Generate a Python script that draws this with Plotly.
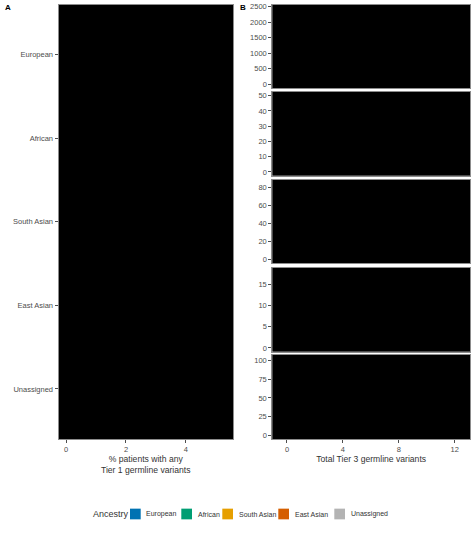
import plotly.graph_objects as go

# ancestry groups and their colours
ancestry = ["European", "African", "South Asian", "East Asian", "Unassigned"]
colors = ["#0072B2", "#009E73", "#E69F00", "#D55E00", "#B3B3B3"]

# panel A: % patients with any Tier 1 germline variant
pct_tier1 = [5.3, 2.9, 3.4, 4.1, 3.0]

# panel B: number of patients by total Tier 3 germline variants (0..12)
n_variants = list(range(13))
tier3_european = [310, 1180, 2040, 2540, 2230, 1620, 980, 520, 240, 100, 38, 12, 4]
tier3_african = [6, 22, 41, 50, 44, 31, 19, 10, 5, 2, 1, 0, 0]
tier3_south_asian = [9, 35, 66, 84, 72, 50, 30, 15, 7, 3, 1, 1, 0]
tier3_east_asian = [2, 8, 14, 18, 16, 11, 7, 4, 2, 1, 0, 0, 0]
tier3_unassigned = [13, 46, 82, 103, 90, 64, 38, 20, 9, 4, 2, 1, 0]
tier3 = [tier3_european, tier3_african, tier3_south_asian, tier3_east_asian, tier3_unassigned]

# y ticks per facet
facet_ticks = [
    [0, 500, 1000, 1500, 2000, 2500],
    [0, 10, 20, 30, 40, 50],
    [0, 20, 40, 60, 80],
    [0, 5, 10, 15],
    [0, 25, 50, 75, 100],
]
facet_ranges = [[-130, 2565], [-2.5, 52.4], [-4.2, 88.2], [-0.9, 18.9], [-5.3, 107.7]]

W, H = 474, 553
def yd(top, bottom):
    return [1 - bottom / H, 1 - top / H]

facet_px = [(4.7, 88.3), (92, 175.7), (180, 263.3), (267.7, 351.7), (355, 439)]

font = "Liberation Sans, Arial, sans-serif"
tick_font = dict(family=font, size=7.5, color="#4d4d4d")
title_font = dict(family=font, size=8.6, color="#333333")
line_col = "#8c8c8c"
panel_bg = "black"

fig = go.Figure()

# panel A bars
fig.add_trace(go.Bar(
    x=pct_tier1, y=ancestry, orientation="h",
    marker=dict(color="black", line=dict(width=0)),
    width=0.9, showlegend=False, xaxis="x", yaxis="y",
))

# panel B histograms, one facet per ancestry
for i, name in enumerate(ancestry):
    fig.add_trace(go.Bar(
        x=n_variants, y=tier3[i], width=1, name=name,
        marker=dict(color="black", line=dict(width=0)),
        showlegend=False, xaxis="x2" if i == 4 else "x%d" % (i + 3),
        yaxis="y%d" % (i + 2),
    ))

axis_common = dict(
    showline=True, linecolor=line_col, linewidth=1, mirror=True,
    ticks="outside", ticklen=3, tickcolor="#4d4d4d", tickwidth=1,
    tickfont=tick_font, showgrid=False, zeroline=False,
)

layout = dict(
    template="none",
    width=W, height=H,
    margin=dict(l=0, r=0, t=0, b=0),
    paper_bgcolor="white", plot_bgcolor=panel_bg,
    barmode="overlay", bargap=0, showlegend=False,
    font=dict(family=font, color="#333333"),
    xaxis=dict(
        domain=[58.5 / W, 233 / W], range=[-0.25, 5.57],
        tickvals=[0, 2, 4],
        title=dict(text="% patients with any<br>Tier 1 germline variants",
                   font=title_font, standoff=0),
        **axis_common,
    ),
    yaxis=dict(
        domain=yd(4.7, 439), type="category",
        categoryorder="array", categoryarray=ancestry,
        range=[4.6, -0.6],
        **axis_common,
    ),
    xaxis2=dict(
        domain=[272.3 / W, 470 / W], range=[-1.05, 13.1],
        tickvals=[0, 4, 8, 12], anchor="y6",
        title=dict(text="Total Tier 3 germline variants",
                   font=title_font, standoff=0),
        **axis_common,
    ),
)

# facet axes for panel B
for i in range(5):
    top, bottom = facet_px[i]
    layout["yaxis%d" % (i + 2)] = dict(
        domain=yd(top, bottom), range=facet_ranges[i],
        tickvals=facet_ticks[i], anchor="x2" if i == 4 else "x%d" % (i + 3),
        **axis_common,
    )
    if i < 4:
        layout["xaxis%d" % (i + 3)] = dict(
            domain=[272.3 / W, 470 / W], range=[-1.05, 13.1], matches="x2",
            anchor="y%d" % (i + 2), showticklabels=False, ticks="",
            showline=True, linecolor=line_col, linewidth=1, mirror=True,
            showgrid=False, zeroline=False,
        )

# panel letters
annotations = [
    dict(text="<b>A</b>", x=3 / W, y=1 - 8 / H, xanchor="left"),
    dict(text="<b>B</b>", x=238 / W, y=1 - 8 / H, xanchor="left"),
]
for a in annotations:
    a.update(xref="paper", yref="paper", showarrow=False, yanchor="middle",
             font=dict(family=font, size=8, color="black"))

# legend drawn at the bottom, ggplot style
leg_y = 514
sw = 10.7
swatch_x = [130, 181.3, 222.3, 278.3, 334.3]
shapes = []
annotations.append(dict(text="Ancestry", x=91 / W, y=1 - leg_y / H, xref="paper", yref="paper",
                        xanchor="left", yanchor="middle", showarrow=False,
                        font=dict(family=font, size=9, color="#333333")))
for name, c, sx in zip(ancestry, colors, swatch_x):
    shapes.append(dict(type="rect", xref="paper", yref="paper",
                       x0=sx / W, x1=(sx + sw) / W,
                       y0=1 - (leg_y + sw / 2) / H, y1=1 - (leg_y - sw / 2) / H,
                       fillcolor=c, line=dict(width=0)))
    annotations.append(dict(text=name, x=(sx + sw + 3.5) / W, y=1 - leg_y / H,
                            xref="paper", yref="paper", xanchor="left", yanchor="middle",
                            showarrow=False, font=dict(family=font, size=7, color="#333333")))

layout["annotations"] = annotations
layout["shapes"] = shapes

fig.update_layout(**layout)

fig.write_html("out.html", config={"displayModeBar": False},
               post_script="document.body.style.margin='0';")
